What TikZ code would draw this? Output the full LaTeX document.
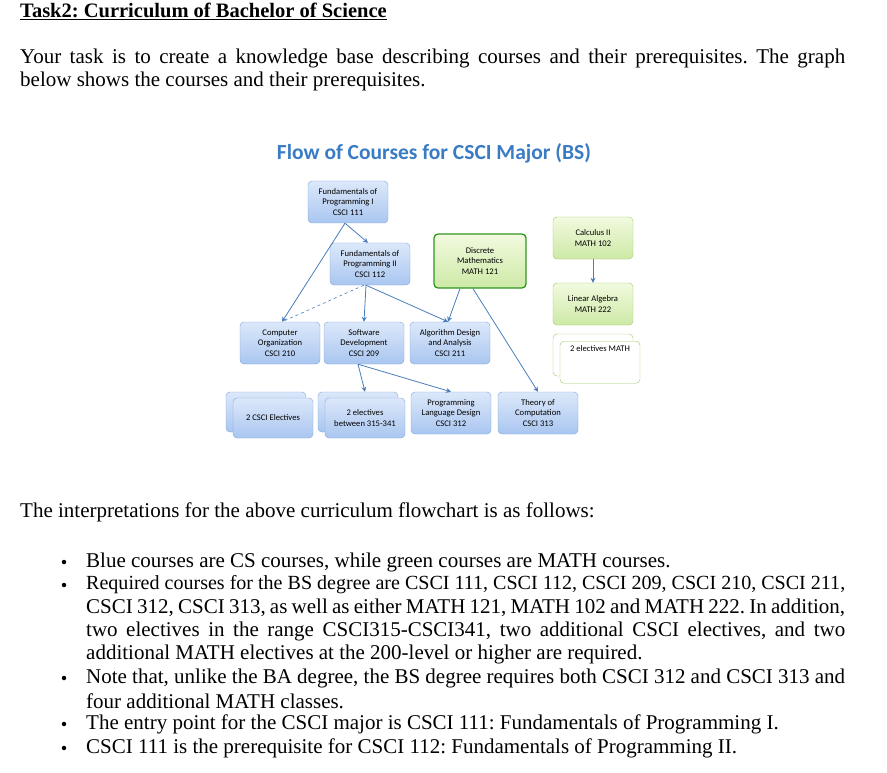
\documentclass[tikz,border=0pt]{standalone}
\usepackage{fontspec}
\usepackage{graphicx}
\setmainfont{Liberation Serif}
\newfontfamily\diag{Carlito}
\usetikzlibrary{arrows.meta}
\definecolor{bbord}{HTML}{7FA6D9}
\definecolor{btop}{HTML}{DCE8FA}
\definecolor{bbot}{HTML}{A9C6F0}
\definecolor{gbord}{HTML}{9CC76A}
\definecolor{gtop}{HTML}{F2FADF}
\definecolor{gbot}{HTML}{CDE9A6}
\definecolor{arr}{HTML}{4A7EBB}
\definecolor{ttl}{HTML}{3A7CC4}
\frenchspacing
\tikzset{
 bbox/.style={draw=bbord,rounded corners=4pt,top color=btop,bottom color=bbot,minimum width=80,minimum height=42,align=center,font=\diag\fontsize{8.6}{10.5}\selectfont,inner sep=1pt},
 gbox/.style={draw=gbord,rounded corners=4pt,top color=gtop,bottom color=gbot,minimum width=80,minimum height=42,align=center,font=\diag\fontsize{8.6}{10.5}\selectfont,inner sep=1pt},
 wbox/.style={draw=gbord,fill=white,rounded corners=4pt,minimum width=80,minimum height=42,align=center,font=\diag\fontsize{8.6}{10.5}\selectfont,inner sep=1pt},
 link/.style={draw=arr,line width=0.8pt,-{Stealth[length=5pt,width=5pt]}},
 line/.style={text width=759,align=justify,anchor=west,inner sep=0pt,font=\fontsize{21}{24}\selectfont},
 para/.style={anchor=west,inner sep=0pt,font=\fontsize{21}{24}\selectfont},
 bul/.style={circle,fill=black,inner sep=0pt,minimum size=4.5}
}
\newcommand{\jl}[1]{\parfillskip=0pt #1\par}
\begin{document}
\begin{tikzpicture}[x=1pt,y=-1pt]
\useasboundingbox (0,0) rectangle (887,773);
\node[anchor=west,inner sep=0pt,font=\bfseries\fontsize{20.5}{24}\selectfont] (t) at (20,11) {\underline{Task2: Curriculum of Bachelor of Science}};
\node[text width=825,align=justify,anchor=west,inner sep=0pt,font=\fontsize{21}{24}\selectfont] (p1) at (20,58) {\jl{Your task is to create a knowledge base describing courses and their prerequisites. The graph}};
\node[para] (p2) at (20,81) {below shows the courses and their prerequisites.};
\node[font=\diag\bfseries\fontsize{21.5}{24}\selectfont,text=ttl] (ft) at (434,153) {Flow of Courses for CSCI Major (BS)};
% boxes
\node[bbox] (a111) at (348,202) {Fundamentals of\\Programming I\\CSCI 111};
\node[bbox] (a112) at (370,264) {Fundamentals of\\Programming II\\CSCI 112};
\node[gbox,line width=1.3pt,draw=green!50!black!70!gbord,minimum width=92,minimum height=54] (m121) at (480,261) {Discrete\\Mathematics\\MATH 121};
\node[gbox] (m102) at (593,238) {Calculus II\\MATH 102};
\node[gbox] (m222) at (593,304) {Linear Algebra\\MATH 222};
\node[wbox] (me0) at (593,355) {};
\node[wbox,anchor=north] (me) at (600,341) {2 electives MATH\\[16pt]};
\node[bbox] (a210) at (280,343) {Computer\\Organization\\CSCI 210};
\node[bbox] (a209) at (364,343) {Software\\Development\\CSCI 209};
\node[bbox] (a211) at (450,343) {Algorithm Design\\and Analysis\\CSCI 211};
\node[bbox,minimum height=40] (e0) at (266,412) {};
\node[bbox,minimum height=40] (e1) at (273,418) {2 CSCI Electives};
\node[bbox,minimum height=40] (b0) at (358,412) {};
\node[bbox,minimum height=40] (b1) at (365,418) {2 electives\\between 315-341};
\node[bbox] (a312) at (451,413) {Programming\\Language Design\\CSCI 312};
\node[bbox] (a313) at (538,413) {Theory of\\Computation\\CSCI 313};
% links
\draw[link] (a111.south) ++(-3,0) coordinate (s1) (s1) -- ([xshift=2pt]a210.north);
\draw[link] (s1) -- ([xshift=-2pt]a112.north);
\draw[draw=arr,line width=0.6pt,dashed] ([xshift=-6pt]a112.south) -- ([xshift=2pt]a210.north);
\draw[link] ([xshift=-4pt]a112.south) -- (a209.north);
\draw[link] ([xshift=-4pt]a112.south) -- ([xshift=-2pt]a211.north);
\draw[link] ([xshift=-20pt]m121.south) -- ([xshift=-2pt]a211.north);
\draw[link] ([xshift=-7pt]m121.south) -- (a313.north);
\draw[link] (m102) -- (m222);
\draw[link] ([xshift=-6pt]a209.south) -- (b0.north -| b1.north);
\draw[link] ([xshift=-6pt]a209.south) -- (a312.north);
% interpretations
\node[para] (p3) at (20,512) {The interpretations for the above curriculum flowchart is as follows:};
\foreach \y in {562,585,678,724,748} \node[bul] at (64,\y) {};
\node[para] (l1) at (86,562) {Blue courses are CS courses, while green courses are MATH courses.};
\node[para] (l2) at (86,585) {\resizebox{759pt}{!}{Required courses for the BS degree are CSCI 111, CSCI 112, CSCI 209, CSCI 210, CSCI 211,}};
\node[line] (l3) at (86,608) {\jl{CSCI 312, CSCI 313, as well as either MATH 121, MATH 102 and MATH 222. In addition,}};
\node[line] (l4) at (86,631) {\jl{two electives in the range CSCI315-CSCI341, two additional CSCI electives, and two}};
\node[para] (l5) at (86,654) {additional MATH electives at the 200-level or higher are required.};
\node[line] (l6) at (86,678) {\jl{Note that, unlike the BA degree, the BS degree requires both CSCI 312 and CSCI 313 and}};
\node[para] (l7) at (86,701) {four additional MATH classes.};
\node[para] (l8) at (86,724) {The entry point for the CSCI major is CSCI 111: Fundamentals of Programming I.};
\node[para] (l9) at (86,748) {CSCI 111 is the prerequisite for CSCI 112: Fundamentals of Programming II.};
\end{tikzpicture}
\end{document}
